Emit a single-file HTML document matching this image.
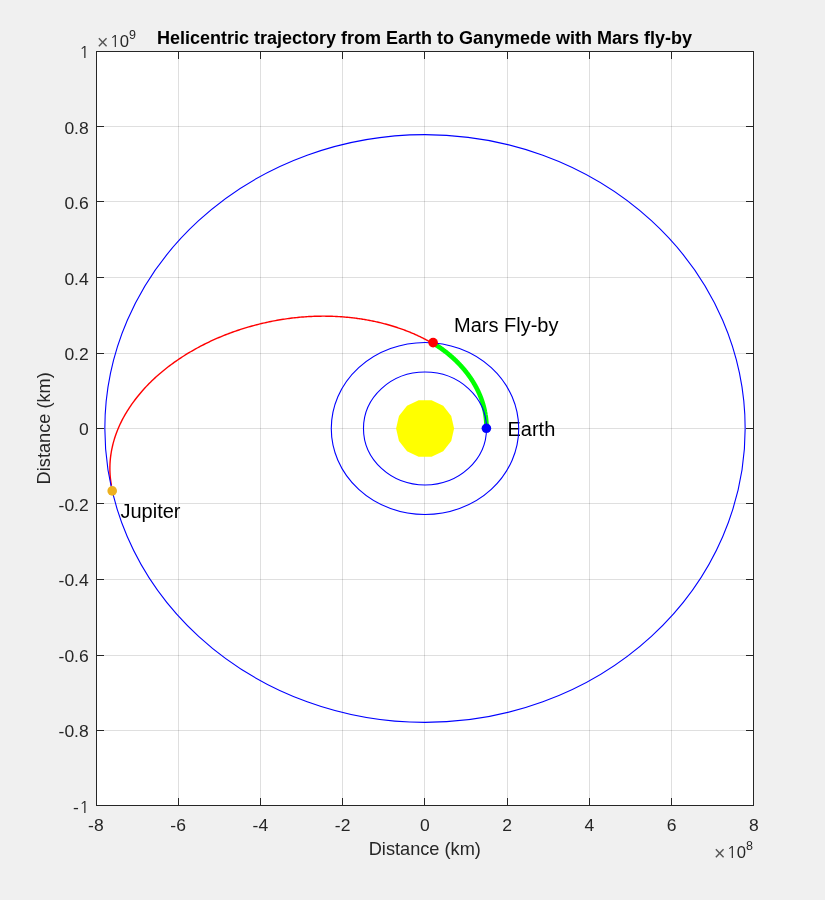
<!DOCTYPE html>
<html><head><meta charset="utf-8"><style>
html,body{margin:0;padding:0;background:#f0f0f0;}
svg{display:block;}
text{font-family:"Liberation Sans",Arial,sans-serif;}
</style></head><body>
<svg width="825" height="900" viewBox="0 0 825 900">
<rect x="0" y="0" width="825" height="900" fill="#f0f0f0"/>
<rect x="96" y="51" width="657" height="754" fill="#fff"/>
<g stroke="#262626" stroke-opacity="0.15" stroke-width="1" fill="none"><path d="M178.5,51V805"/><path d="M260.5,51V805"/><path d="M342.5,51V805"/><path d="M424.5,51V805"/><path d="M507.5,51V805"/><path d="M589.5,51V805"/><path d="M671.5,51V805"/><path d="M96,126.5H753"/><path d="M96,201.5H753"/><path d="M96,277.5H753"/><path d="M96,353.5H753"/><path d="M96,428.5H753"/><path d="M96,503.5H753"/><path d="M96,579.5H753"/><path d="M96,655.5H753"/><path d="M96,730.5H753"/></g>
<polygon points="454.10,428.50 451.23,415.92 443.18,405.83 431.55,400.23 418.65,400.23 407.02,405.83 398.97,415.92 396.10,428.50 398.97,441.08 407.02,451.17 418.65,456.77 431.55,456.77 443.18,451.17 451.23,441.08" fill="#ffff00"/>
<g fill="#000" font-size="20">
<text x="454" y="331.8">Mars Fly-by</text>
<text x="507.5" y="435.7">Earth</text>
<text x="120.5" y="518">Jupiter</text>
</g>
<path d="M432.91,343.59 L432.36,343.27 L431.81,342.95 L431.26,342.63 L430.70,342.31 L430.14,341.99 L429.57,341.67 L429.01,341.35 L428.43,341.03 L427.85,340.72 L427.27,340.40 L426.69,340.08 L426.10,339.77 L425.50,339.46 L424.90,339.14 L424.30,338.83 L423.69,338.52 L423.08,338.21 L422.47,337.90 L421.85,337.59 L421.22,337.28 L420.59,336.98 L419.96,336.67 L419.32,336.37 L418.68,336.06 L418.04,335.76 L417.39,335.46 L416.73,335.16 L416.07,334.86 L415.40,334.56 L414.74,334.26 L414.06,333.97 L413.38,333.67 L412.70,333.38 L412.01,333.09 L411.32,332.79 L410.62,332.50 L409.92,332.21 L409.21,331.93 L408.50,331.64 L407.78,331.36 L407.06,331.07 L406.33,330.79 L405.59,330.51 L404.86,330.23 L404.11,329.95 L403.36,329.68 L402.61,329.40 L401.85,329.13 L401.09,328.86 L400.32,328.59 L399.54,328.32 L398.76,328.05 L397.97,327.79 L397.18,327.52 L396.39,327.26 L395.58,327.00 L394.78,326.75 L393.96,326.49 L393.14,326.24 L392.32,325.98 L391.49,325.73 L390.65,325.49 L389.81,325.24 L388.96,325.00 L388.10,324.76 L387.24,324.52 L386.38,324.28 L385.50,324.05 L384.63,323.81 L383.74,323.58 L382.85,323.36 L381.95,323.13 L381.05,322.91 L380.14,322.69 L379.23,322.47 L378.30,322.25 L377.38,322.04 L376.44,321.83 L375.50,321.63 L374.55,321.42 L373.60,321.22 L372.64,321.02 L371.67,320.83 L370.70,320.64 L369.72,320.45 L368.73,320.26 L367.74,320.08 L366.74,319.90 L365.73,319.72 L364.72,319.55 L363.70,319.38 L362.67,319.21 L361.64,319.05 L360.59,318.89 L359.55,318.74 L358.49,318.59 L357.43,318.44 L356.36,318.29 L355.28,318.15 L354.20,318.02 L353.11,317.89 L352.01,317.76 L350.90,317.64 L349.79,317.52 L348.67,317.40 L347.55,317.29 L346.41,317.19 L345.27,317.09 L344.12,316.99 L342.96,316.90 L341.80,316.82 L340.63,316.73 L339.45,316.66 L338.26,316.59 L337.07,316.52 L335.87,316.46 L334.66,316.40 L333.44,316.36 L332.22,316.31 L330.99,316.27 L329.75,316.24 L328.50,316.21 L327.25,316.19 L325.98,316.18 L324.72,316.17 L323.44,316.16 L322.15,316.17 L320.86,316.18 L319.56,316.19 L318.25,316.21 L316.94,316.24 L315.61,316.28 L314.28,316.32 L312.94,316.37 L311.60,316.43 L310.25,316.49 L308.88,316.57 L307.52,316.65 L306.14,316.73 L304.76,316.83 L303.36,316.94 L301.97,317.05 L300.56,317.17 L299.15,317.30 L297.73,317.44 L296.30,317.58 L294.86,317.74 L293.42,317.90 L291.97,318.07 L290.51,318.26 L289.05,318.45 L287.58,318.65 L286.10,318.85 L284.62,319.07 L283.13,319.30 L281.63,319.54 L280.12,319.79 L278.61,320.04 L277.09,320.31 L275.57,320.59 L274.04,320.87 L272.50,321.17 L270.95,321.48 L269.40,321.80 L267.85,322.12 L266.29,322.46 L264.72,322.81 L263.14,323.18 L261.56,323.55 L259.98,323.93 L258.39,324.32 L256.79,324.73 L255.19,325.15 L253.59,325.58 L251.97,326.02 L250.36,326.47 L248.74,326.93 L247.11,327.41 L245.48,327.90 L243.85,328.40 L242.21,328.91 L240.57,329.44 L238.92,329.98 L237.27,330.53 L235.62,331.09 L233.97,331.67 L232.31,332.26 L230.65,332.87 L228.99,333.49 L227.32,334.12 L225.65,334.77 L223.98,335.43 L222.31,336.11 L220.64,336.80 L218.97,337.50 L217.30,338.22 L215.62,338.95 L213.95,339.70 L212.28,340.46 L210.60,341.24 L208.93,342.03 L207.26,342.84 L205.59,343.66 L203.92,344.50 L202.25,345.35 L200.58,346.22 L198.92,347.10 L197.26,348.00 L195.60,348.91 L193.95,349.84 L192.30,350.79 L190.65,351.75 L189.01,352.72 L187.37,353.71 L185.73,354.72 L184.11,355.74 L182.48,356.77 L180.87,357.83 L179.26,358.89 L177.65,359.98 L176.06,361.08 L174.47,362.19 L172.89,363.32 L171.32,364.47 L169.76,365.63 L168.21,366.81 L166.67,368.01 L165.14,369.22 L163.61,370.45 L162.11,371.69 L160.61,372.95 L159.12,374.22 L157.65,375.51 L156.19,376.82 L154.75,378.14 L153.32,379.48 L151.90,380.83 L150.50,382.20 L149.11,383.58 L147.74,384.98 L146.39,386.39 L145.06,387.82 L143.74,389.26 L142.44,390.72 L141.16,392.19 L139.90,393.68 L138.65,395.18 L137.43,396.69 L136.23,398.22 L135.05,399.76 L133.89,401.32 L132.75,402.88 L131.63,404.46 L130.53,406.05 L129.45,407.65 L128.39,409.26 L127.36,410.88 L126.35,412.52 L125.37,414.17 L124.42,415.82 L123.49,417.50 L122.59,419.18 L121.72,420.87 L120.88,422.58 L120.06,424.29 L119.28,426.02 L118.52,427.75 L117.79,429.49 L117.10,431.24 L116.43,433.00 L115.79,434.76 L115.19,436.54 L114.61,438.32 L114.07,440.10 L113.56,441.89 L113.08,443.69 L112.63,445.49 L112.22,447.30 L111.84,449.11 L111.49,450.93 L111.18,452.75 L110.89,454.57 L110.65,456.39 L110.43,458.22 L110.26,460.05 L110.11,461.87 L110.00,463.70 L109.93,465.53 L109.89,467.36 L109.89,469.19 L109.92,471.02 L109.99,472.85 L110.09,474.67 L110.23,476.49 L110.41,478.31 L110.62,480.12 L110.87,481.93 L111.15,483.73 L111.47,485.53" fill="none" stroke="#ff0000" stroke-width="1.4"/>
<path d="M486.50,428.30 L486.50,427.88 L486.50,427.45 L486.50,427.03 L486.49,426.60 L486.49,426.18 L486.48,425.75 L486.47,425.33 L486.45,424.90 L486.44,424.48 L486.42,424.05 L486.40,423.63 L486.38,423.20 L486.35,422.78 L486.32,422.35 L486.29,421.93 L486.26,421.50 L486.23,421.08 L486.19,420.65 L486.16,420.23 L486.12,419.80 L486.07,419.37 L486.03,418.95 L485.98,418.52 L485.93,418.10 L485.88,417.67 L485.83,417.25 L485.77,416.82 L485.71,416.39 L485.65,415.97 L485.59,415.54 L485.52,415.12 L485.46,414.69 L485.39,414.26 L485.32,413.84 L485.24,413.41 L485.16,412.98 L485.09,412.56 L485.00,412.13 L484.92,411.70 L484.84,411.28 L484.75,410.85 L484.66,410.42 L484.57,410.00 L484.47,409.57 L484.37,409.14 L484.27,408.71 L484.17,408.29 L484.07,407.86 L483.96,407.43 L483.85,407.00 L483.74,406.57 L483.63,406.15 L483.51,405.72 L483.39,405.29 L483.27,404.86 L483.15,404.43 L483.02,404.00 L482.89,403.58 L482.76,403.15 L482.63,402.72 L482.49,402.29 L482.35,401.86 L482.21,401.43 L482.07,401.00 L481.92,400.57 L481.78,400.14 L481.63,399.71 L481.47,399.28 L481.32,398.85 L481.16,398.42 L481.00,397.99 L480.83,397.56 L480.67,397.13 L480.50,396.70 L480.33,396.27 L480.15,395.84 L479.98,395.41 L479.80,394.98 L479.62,394.54 L479.43,394.11 L479.24,393.68 L479.05,393.25 L478.86,392.82 L478.67,392.39 L478.47,391.95 L478.27,391.52 L478.06,391.09 L477.86,390.66 L477.65,390.22 L477.44,389.79 L477.22,389.36 L477.00,388.93 L476.78,388.49 L476.56,388.06 L476.33,387.63 L476.10,387.19 L475.87,386.76 L475.64,386.33 L475.40,385.89 L475.16,385.46 L474.91,385.02 L474.67,384.59 L474.42,384.16 L474.16,383.72 L473.91,383.29 L473.65,382.85 L473.39,382.42 L473.12,381.99 L472.85,381.55 L472.58,381.12 L472.31,380.68 L472.03,380.25 L471.75,379.81 L471.46,379.38 L471.18,378.94 L470.89,378.51 L470.59,378.07 L470.29,377.64 L469.99,377.20 L469.69,376.77 L469.38,376.33 L469.07,375.90 L468.76,375.46 L468.44,375.03 L468.12,374.59 L467.80,374.16 L467.47,373.72 L467.14,373.28 L466.80,372.85 L466.46,372.41 L466.12,371.98 L465.77,371.54 L465.43,371.11 L465.07,370.67 L464.72,370.24 L464.36,369.80 L463.99,369.37 L463.62,368.93 L463.25,368.50 L462.88,368.07 L462.50,367.63 L462.12,367.20 L461.73,366.76 L461.34,366.33 L460.94,365.89 L460.54,365.46 L460.14,365.03 L459.74,364.59 L459.32,364.16 L458.91,363.73 L458.49,363.29 L458.07,362.86 L457.64,362.43 L457.21,362.00 L456.77,361.57 L456.33,361.13 L455.89,360.70 L455.44,360.27 L454.99,359.84 L454.53,359.41 L454.07,358.98 L453.61,358.55 L453.14,358.12 L452.66,357.69 L452.18,357.26 L451.70,356.84 L451.21,356.41 L450.72,355.98 L450.22,355.55 L449.72,355.13 L449.21,354.70 L448.70,354.28 L448.18,353.85 L447.66,353.43 L447.13,353.01 L446.60,352.58 L446.07,352.16 L445.53,351.74 L444.98,351.32 L444.43,350.90 L443.87,350.48 L443.31,350.06 L442.75,349.64 L442.18,349.22 L441.60,348.81 L441.02,348.39 L440.43,347.98 L439.84,347.56 L439.24,347.15 L438.64,346.74 L438.03,346.33 L437.41,345.92 L436.80,345.51 L436.17,345.10 L435.54,344.70 L434.90,344.29 L434.26,343.89 L433.62,343.48 L432.96,343.08" fill="none" stroke="#00ff00" stroke-width="4.6"/>
<g fill="none" stroke="#0000ff" stroke-width="1.1"><ellipse cx="425" cy="428.5" rx="61.52" ry="56.47"/><ellipse cx="425" cy="428.5" rx="93.72" ry="86.03"/><ellipse cx="425" cy="428.5" rx="320.16" ry="293.88"/></g>
<circle cx="433.1" cy="342.6" r="4.8" fill="#ff0000"/>
<circle cx="486.4" cy="428.3" r="4.8" fill="#0000ff"/>
<circle cx="112.2" cy="490.9" r="4.8" fill="#edb120"/>
<rect x="96.5" y="51.5" width="657" height="754" fill="none" stroke="#262626" stroke-width="1"/>
<path d="M178.5,805v-7M178.5,51v8M260.5,805v-7M260.5,51v8M342.5,805v-7M342.5,51v8M424.5,805v-7M424.5,51v8M507.5,805v-7M507.5,51v8M589.5,805v-7M589.5,51v8M671.5,805v-7M671.5,51v8M96,126.5h8M753,126.5h-7M96,201.5h8M753,201.5h-7M96,277.5h8M753,277.5h-7M96,353.5h8M753,353.5h-7M96,428.5h8M753,428.5h-7M96,503.5h8M753,503.5h-7M96,579.5h8M753,579.5h-7M96,655.5h8M753,655.5h-7M96,730.5h8M753,730.5h-7" stroke="#262626" stroke-width="1" fill="none"/>
<g fill="#262626" font-size="16.67" text-anchor="middle"><text transform="translate(95.90,831) scale(1.05,1)">-8</text><text transform="translate(178.15,831) scale(1.05,1)">-6</text><text transform="translate(260.40,831) scale(1.05,1)">-4</text><text transform="translate(342.65,831) scale(1.05,1)">-2</text><text transform="translate(424.90,831) scale(1.05,1)">0</text><text transform="translate(507.15,831) scale(1.05,1)">2</text><text transform="translate(589.40,831) scale(1.05,1)">4</text><text transform="translate(671.65,831) scale(1.05,1)">6</text><text transform="translate(753.90,831) scale(1.05,1)">8</text></g>
<g fill="#262626" font-size="16.67" text-anchor="end"><text transform="translate(89.5,57.80) scale(1.05,1)"><tspan font-family="NanumGothic, sans-serif">1</tspan></text><text transform="translate(88.7,133.80) scale(1.05,1)">0.8</text><text transform="translate(88.7,208.80) scale(1.05,1)">0.6</text><text transform="translate(88.7,284.80) scale(1.05,1)">0.4</text><text transform="translate(88.7,359.80) scale(1.05,1)">0.2</text><text transform="translate(88.7,434.80) scale(1.05,1)">0</text><text transform="translate(88.7,510.80) scale(1.05,1)">-0.2</text><text transform="translate(88.7,585.80) scale(1.05,1)">-0.4</text><text transform="translate(88.7,661.80) scale(1.05,1)">-0.6</text><text transform="translate(88.7,736.80) scale(1.05,1)">-0.8</text><text transform="translate(89.5,812.80) scale(1.05,1)">-<tspan font-family="NanumGothic, sans-serif">1</tspan></text></g>
<text x="424.8" y="855.2" fill="#262626" font-size="18.2" text-anchor="middle">Distance (km)</text>
<text transform="translate(50.2,428.3) rotate(-90)" fill="#262626" font-size="18.2" text-anchor="middle">Distance (km)</text>
<text x="424.5" y="44" fill="#000" font-size="18" font-weight="bold" text-anchor="middle">Helicentric trajectory from Earth to Ganymede with Mars fly-by</text>
<g fill="#262626"><text x="97" y="49.3" font-size="19.5" font-family="DejaVu Sans, sans-serif" font-weight="200" fill="#555">×</text><text x="109.7" y="46.8" font-size="16.67"><tspan font-family="NanumGothic, sans-serif">1</tspan>0</text><text x="128.9" y="38.8" font-size="12.5">9</text>
<text x="714" y="860.3" font-size="19.5" font-family="DejaVu Sans, sans-serif" font-weight="200" fill="#555">×</text><text x="726.7" y="858" font-size="16.67"><tspan font-family="NanumGothic, sans-serif">1</tspan>0</text><text x="745.9" y="849.9" font-size="12.5">8</text></g>

</svg>
</body></html>
